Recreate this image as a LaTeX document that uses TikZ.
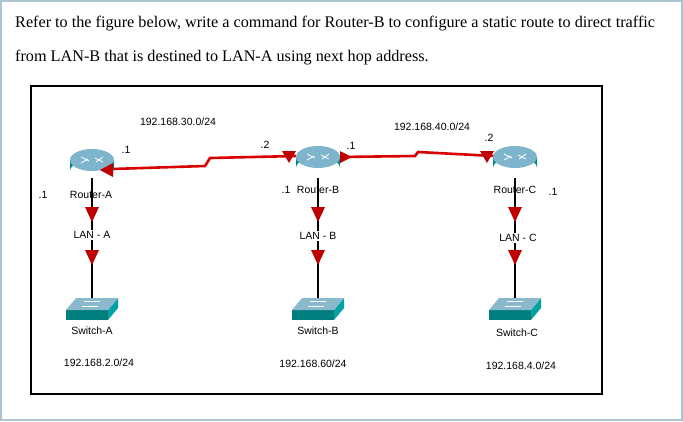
\documentclass[tikz,border=0pt]{standalone}
\usepackage{fontspec}
\setmainfont{Liberation Serif}
\newfontfamily\lab{Liberation Sans}
\begin{document}
\begin{tikzpicture}[x=1pt,y=-1pt,
 lbl/.style={font=\lab\fontsize{10.5}{12}\selectfont,inner sep=1pt},
 tri/.style={fill=red!75!black,draw=none},
 serial/.style={red!85!black,line width=2.6pt},
 eth/.style={black,line width=2.8pt}]
\useasboundingbox (0,0) rectangle (683,421);
\draw[cyan!30!gray!60,line width=1.5pt] (1,1) rectangle (682,420);
\node[anchor=west,font=\fontsize{16.2}{18}\selectfont,inner sep=0] (t1) at (15,24) {Refer to the figure below, write a command for Router-B to configure a static route to direct traffic};
\node[anchor=west,font=\fontsize{16.2}{18}\selectfont,inner sep=0] (t2) at (15,58) {from LAN-B that is destined to LAN-A using next hop address.};
\draw[line width=2.5pt] (31,86) rectangle (602,394);
% vertical links
\foreach \x in {92,318,515}{
 \draw[eth] (\x,178) -- (\x,300);
 \fill[tri] (\x-7,207) -- (\x+7,207) -- (\x,222) -- cycle;
 \fill[tri] (\x-7,250) -- (\x+7,250) -- (\x,265) -- cycle;
}
% serial links
\draw[serial] (112,169) -- (205,166) -- (210,158) -- (296,156);
\draw[serial] (339,157) -- (415,156) -- (418,152) -- (494,156);
% routers
\foreach \n/\x/\y in {RA/92/165,RB/318/162,RC/515/162}{
 \coordinate (\n) at (\x,\y);
 \fill[teal!50!cyan!70!black] (\x-22,\y-5) -- (\x-22,\y+6) arc[start angle=180,end angle=360,x radius=22,y radius=11] -- (\x+22,\y-5) -- cycle;
 \fill[cyan!30!teal!60] (\x,\y-5) ellipse[x radius=22,y radius=11];
 \draw[white,line width=0.8pt] (\x-11,\y-8)--(\x-3,\y-4) (\x+3,\y-7)--(\x+11,\y-3) (\x-11,\y-2)--(\x-4,\y-6) (\x+4,\y-3)--(\x+11,\y-8);
}
\fill[tri] (100,170) -- (113,163) -- (113,177) -- cycle;
\fill[tri] (282,151) -- (296,151) -- (289,163) -- cycle;
\fill[tri] (340,151) -- (352,157) -- (340,163) -- cycle;
\fill[tri] (480,151) -- (494,151) -- (487,163) -- cycle;
% switches
\foreach \n/\x/\y in {SA/92/310,SB/318/310,SC/515/310}{
 \coordinate (\n) at (\x,\y);
 \fill[teal!60!cyan!70!black] (\x-26,\y) -- (\x+16,\y) -- (\x+16,\y+10) -- (\x-26,\y+10) -- cycle;
 \fill[teal!40!cyan!80!black] (\x+16,\y) -- (\x+26,\y-12) -- (\x+26,\y-2) -- (\x+16,\y+10) -- cycle;
 \fill[cyan!25!teal!55] (\x-26,\y) -- (\x-16,\y-12) -- (\x+26,\y-12) -- (\x+16,\y) -- cycle;
 \draw[white,line width=0.5pt] (\x-8,\y-9)--(\x+8,\y-9) (\x-10,\y-4)--(\x+6,\y-4);
}
% labels
\node[lbl] (n1) at (178,122) {192.168.30.0/24};
\node[lbl] (n2) at (432,127) {192.168.40.0/24};
\node[lbl] at (126,150) {.1};
\node[lbl] at (265,145) {.2};
\node[lbl] at (351,146) {.1};
\node[lbl] at (489,138) {.2};
\node[lbl] at (43,195) {.1};
\node[lbl] at (91,195) {Router-A};
\node[lbl] at (286,190) {.1};
\node[lbl] at (318,190) {Router-B};
\node[lbl] at (515,190) {Router-C};
\node[lbl] at (553,192) {.1};
\node[lbl,fill=white] at (92,235) {LAN - A};
\node[lbl,fill=white] at (318,236) {LAN - B};
\node[lbl,fill=white] at (518,238) {LAN - C};
\node[lbl] at (92,331) {Switch-A};
\node[lbl] at (318,331) {Switch-B};
\node[lbl] at (517,333) {Switch-C};
\node[lbl] at (99,363) {192.168.2.0/24};
\node[lbl] at (313,364) {192.168.60/24};
\node[lbl] at (521,366) {192.168.4.0/24};
\end{tikzpicture}
\end{document}
